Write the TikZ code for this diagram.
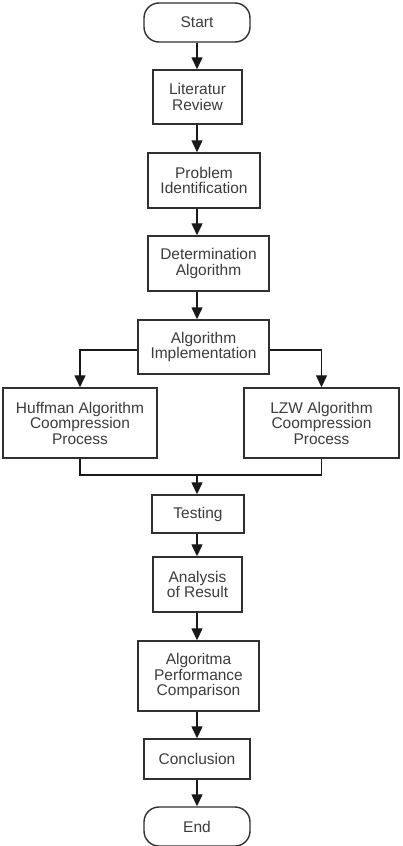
\documentclass[tikz,border=0pt]{standalone}
\usepackage{fontspec}
\setmainfont{Liberation Sans}
\usetikzlibrary{arrows.meta}
\definecolor{txt}{HTML}{3C3C3C}
\definecolor{edge}{HTML}{303030}
\tikzset{
  box/.style={draw=edge, line width=1.4pt, fill=white, text=txt, align=center, inner sep=0pt,
    font=\fontsize{15.5}{15.5}\selectfont},
  term/.style={box, rounded corners=15pt},
  conn/.style={draw=black!90, line width=1.3pt},
  arr/.style={conn, -{Triangle[length=12pt,width=11pt]}}
}
\begin{document}
\begin{tikzpicture}[x=1pt,y=1pt]
\useasboundingbox (0,0) rectangle (402,-846);
\node[term, minimum width=106pt, minimum height=39pt] (start) at (197,-22.5) {Start};
\node[box, minimum width=89pt, minimum height=54pt] (lit) at (197.5,-97) {Literatur\\Review};
\node[box, minimum width=112pt, minimum height=55pt] (prob) at (204,-180.5) {Problem\\Identification};
\node[box, minimum width=121pt, minimum height=55pt] (det) at (208.5,-263.5) {Determination\\Algorithm};
\node[box, minimum width=131pt, minimum height=54pt] (impl) at (203.5,-347) {Algorithm\\Implementation};
\node[box, minimum width=154pt, minimum height=70pt] (huff) at (80,-423) {Huffman Algorithm\\Coompression\\Process};
\node[box, minimum width=155pt, minimum height=70pt] (lzw) at (321.5,-423) {LZW Algorithm\\Coompression\\Process};
\node[box, minimum width=92pt, minimum height=38pt] (test) at (198,-514) {Testing};
\node[box, minimum width=89pt, minimum height=55pt] (anal) at (197.5,-584.5) {Analysis\\of Result};
\node[box, minimum width=121pt, minimum height=70pt] (perf) at (198.5,-676) {Algoritma\\Performance\\Comparison};
\node[box, minimum width=106pt, minimum height=40pt] (conc) at (197,-759) {Conclusion};
\node[term, minimum width=106pt, minimum height=39pt] (end) at (197,-826.5) {End};
\coordinate (sp) at (197,0);
\draw[arr] (start.south) -- (start.south |- lit.north);
\draw[arr] (sp |- lit.south) -- (sp |- prob.north);
\draw[arr] (sp |- prob.south) -- (sp |- det.north);
\draw[arr] (sp |- det.south) -- (sp |- impl.north);
\draw[arr] ([yshift=-3pt]impl.west) -| (huff.north);
\draw[arr] ([yshift=-3pt]impl.east) -| (lzw.north);
\coordinate (mid) at (197,-475);
\draw[conn] (huff.south) |- (mid) -| (lzw.south);
\draw[arr] (mid) -- (mid |- test.north);
\draw[arr] (sp |- test.south) -- (sp |- anal.north);
\draw[arr] (sp |- anal.south) -- (sp |- perf.north);
\draw[arr] (sp |- perf.south) -- (sp |- conc.north);
\draw[arr] (sp |- conc.south) -- (sp |- end.north);
\end{tikzpicture}
\end{document}
